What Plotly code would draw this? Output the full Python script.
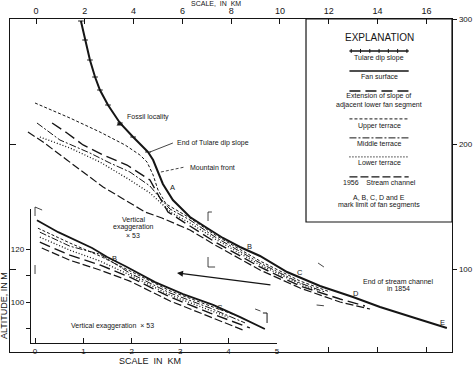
import plotly.graph_objects as go

# ---------------- data (main profile: km on top scale, altitude m on right scale)
tulare_km = [1.84, 2.01, 2.21, 2.42, 2.62, 2.95, 3.44, 3.98, 4.59]
tulare_m = [298.4, 283.2, 267.2, 253.6, 243.2, 231.2, 216.8, 205.6, 193.6]

fan_km = [4.59, 4.80, 5.00, 5.20, 5.61, 6.31, 7.01, 7.66, 8.36, 9.18, 10.29, 11.64, 12.99, 14.10, 15.53, 16.84]
fan_m = [193.6, 187.2, 177.6, 168.0, 155.2, 141.6, 132.8, 124.8, 117.6, 110.4, 97.6, 86.4, 77.6, 69.6, 60.8, 52.8]

upper_km = [-0.04, 1.39, 2.62, 3.65, 4.26, 4.55, 4.80, 5.00, 5.33, 6.31, 7.34, 9.18, 10.82, 12.05]
upper_m = [232.8, 220.8, 209.6, 199.2, 191.2, 185.6, 175.2, 163.2, 152.0, 140.8, 127.2, 106.4, 90.4, 81.6]

middle_km = [0.04, 0.98, 2.21, 3.03, 3.85, 4.67, 5.08, 5.49, 6.31, 7.34, 9.18, 10.82, 11.84]
middle_m = [216.8, 203.2, 192.8, 184.8, 177.6, 166.4, 156.8, 148.0, 139.2, 125.6, 104.8, 88.8, 81.6]

lower_km = [0.16, 1.39, 2.62, 3.85, 4.67, 5.57, 6.31, 7.34, 9.18, 10.82, 11.64]
lower_m = [205.6, 196.8, 185.6, 171.2, 160.8, 144.8, 136.8, 124.0, 103.2, 88.0, 82.4]

ext_km = [0.66, 1.27, 1.93, 2.75, 3.73, 4.67, 5.08, 5.41, 6.31, 7.34, 9.18, 10.82, 12.46, 13.48]
ext_m = [216.8, 208.8, 199.2, 191.2, 183.2, 171.2, 156.8, 145.6, 134.4, 121.6, 101.6, 86.4, 76.0, 70.4]

stream_km = [-0.33, 0.29, 1.27, 1.93, 2.75, 3.44, 4.47, 5.16, 6.31, 7.34, 9.18, 10.82, 12.46, 13.69]
stream_m = [209.6, 201.6, 187.2, 177.6, 165.6, 157.6, 145.6, 140.8, 131.2, 119.2, 99.2, 84.8, 73.6, 68.0]

fossil_km = [3.44]
fossil_m = [216.0]

# ---------------- inset data (km on inset scale, altitude m on inset scale)
ifan_km = [0.04, 0.48, 1.18, 1.49, 1.86, 2.48, 3.06, 3.68, 4.24, 4.75]
ifan_m = [130.9, 126.4, 120.4, 117.0, 113.6, 107.5, 103.0, 98.9, 94.3, 89.8]
iupper_km = [0.06, 0.72, 1.34, 1.96, 2.79, 3.62, 4.13]
iupper_m = [127.9, 122.3, 117.4, 111.7, 104.2, 98.5, 95.1]
imiddle_km = [0.10, 0.72, 1.34, 1.96, 2.79, 3.62, 4.34]
imiddle_m = [126.4, 121.1, 118.1, 110.9, 103.4, 97.7, 92.1]
ilower_km = [0.10, 0.72, 1.34, 1.96, 2.79, 3.62, 4.03]
ilower_m = [124.5, 119.6, 115.5, 110.2, 102.6, 97.0, 94.0]
iext_km = [0.10, 0.72, 1.34, 1.96, 2.79, 3.62, 4.44]
iext_m = [122.6, 117.7, 114.0, 109.4, 101.9, 95.8, 90.2]
istream_km = [0.14, 0.72, 1.34, 1.96, 2.79, 3.62, 4.34]
istream_m = [120.4, 115.8, 112.1, 107.9, 100.4, 94.3, 89.1]

top_ticks = [0, 2, 4, 6, 8, 10, 12, 14, 16]
right_ticks = [100, 200, 300]
inset_xticks = [0, 1, 2, 3, 4, 5]
inset_yticks = [90, 100, 110, 120]
inset_yticktext = ["", "100", "", "120"]

legend_items = ["Tulare dip slope", "Fan surface",
                "Extension of slope of<br>adjacent lower fan segment",
                "Upper terrace", "Middle terrace", "Lower terrace",
                "1956\u00a0\u00a0\u00a0\u00a0Stream channel"]

# ---------------- styles
LC = "#151515"
FONT = "Liberation Sans, Arial, sans-serif"
S_UPPER = dict(dash="3px,2px", width=1)
S_MIDDLE = dict(dash="7px,2px,2px,2px", width=1)
S_LOWER = dict(dash="1px,2px", width=1.3)
S_EXT = dict(dash="11px,5px", width=1.4)
S_STREAM = dict(dash="8px,3px", width=1.2)

fig = go.Figure()


def add(xs, ys, style, xa="x", ya="y", **kw):
    fig.add_trace(go.Scatter(x=xs, y=ys, mode=kw.pop("mode", "lines"),
                             line=dict(color=LC, **style), xaxis=xa, yaxis=ya,
                             hoverinfo="skip", showlegend=False, **kw))


# main profile
add(upper_km, upper_m, S_UPPER)
add(middle_km, middle_m, S_MIDDLE)
add(lower_km, lower_m, S_LOWER)
add(ext_km, ext_m, S_EXT)
add(stream_km, stream_m, S_STREAM)
add(fan_km, fan_m, dict(width=2))
add(tulare_km, tulare_m, dict(width=2), mode="lines+markers",
    marker=dict(symbol="line-ew", size=4, line=dict(color=LC, width=1)))
add(fossil_km, fossil_m, dict(width=1), mode="markers",
    marker=dict(symbol="triangle-up", size=6, color=LC))
# leaders
add([4.67, 5.61], [193.6, 200.8], dict(width=0.8))
add([5.12, 6.1], [177.6, 181.6], dict(width=0.8, dash="3px,2px"))
# bracket marks
add([7.05, 7.05, 7.34], [109.6, 101.6, 101.6], dict(width=0.8))
add([7.21, 7.05, 7.05], [145.6, 145.6, 138.4], dict(width=0.8))
add([9.3, 9.47, 9.47], [64.8, 64.8, 56.8], dict(width=1))
add([8.98, 9.2], [68.0, 66.4], dict(width=0.8))
add([11.56, 11.8], [104.8, 101.6], dict(width=0.8))
add([11.5, 11.8], [71.2, 70.6], dict(width=0.8))
add([0.25, -0.04, -0.04], [147.2, 149.6, 142.4], dict(width=0.8))
add([-0.04, -0.04], [103.2, 96.0], dict(width=0.8))

# inset
add(iupper_km, iupper_m, S_UPPER, "x2", "y2")
add(imiddle_km, imiddle_m, S_MIDDLE, "x2", "y2")
add(ilower_km, ilower_m, S_LOWER, "x2", "y2")
add(iext_km, iext_m, S_EXT, "x2", "y2")
add(istream_km, istream_m, S_STREAM, "x2", "y2")
add(ifan_km, ifan_m, dict(width=1.8), "x2", "y2")

# dummy for overlay tick axes
fig.add_trace(go.Scatter(x=[0], y=[100], mode="markers", marker=dict(opacity=0),
                         xaxis="x3", yaxis="y3", hoverinfo="skip", showlegend=False))

XR = [-1.066, 17.05]
YR = [33.6, 300]

ann = []


def txt(x, y, t, size=7, xref="x", yref="y", xanchor="center", **kw):
    ann.append(dict(x=x, y=y, xref=xref, yref=yref, text=t, showarrow=False,
                    xanchor=xanchor, yanchor="middle",
                    font=dict(family=FONT, size=size, color=LC), **kw))


txt(3.65, 221.6, "Fossil locality", xanchor="left")
txt(5.7, 200.8, "End of Tulare dip slope", xanchor="left")
txt(6.23, 181.6, "Mountain front", xanchor="left")
txt(5.61, 165.6, "A", size=7.5)
txt(8.77, 118.0, "B", size=7.5)
txt(10.82, 97.6, "C", size=7.5)
txt(13.11, 80.8, "D", size=7.5)
txt(16.68, 57.6, "E", size=7.5)
txt(14.84, 90.4, "End of stream channel")
txt(14.84, 84.6, "in 1854")
txt(3.98, 140.0, "Vertical")
txt(3.98, 133.6, "exaggeration")
txt(3.98, 127.2, "\u00d7 53")
txt(1.65, 116.6, "B", size=7.5, xref="x2", yref="y2")
txt(3.82, 98.1, "C", size=7.5, xref="x2", yref="y2")
txt(1.61, 90.9, "Vertical exaggeration  \u00d7 53", xref="x2", yref="y2")

ann.append(dict(x=5.78, y=96.8, ax=9.67, ay=87.2, xref="x", yref="y", axref="x", ayref="y",
                showarrow=True, arrowhead=2, arrowsize=1, arrowwidth=1.2, arrowcolor=LC, text=""))

# paper-space texts
txt(0.466, 1.046, "SCALE,  IN  KM", size=7, xref="paper", yref="paper")
txt(0.317, -0.026, "SCALE  IN  KM", size=9, xref="paper", yref="paper")
txt(-0.0136, 0.141, "ALTITUDE, IN M", size=9, xref="paper", yref="paper", textangle=-90)

# legend box content
LX = 0.835
txt(LX, 0.943, "EXPLANATION", size=10, xref="paper", yref="paper")
label_y = [0.883, 0.826, 0.754, 0.679, 0.625, 0.568, 0.508]
for t, yy in zip(legend_items, label_y):
    txt(LX, yy, t, size=7, xref="paper", yref="paper")
txt(LX, 0.465, "A, B, C, D and E", size=7, xref="paper", yref="paper")
txt(LX, 0.441, "mark limit of fan segments", size=7, xref="paper", yref="paper")

shapes = [dict(type="rect", xref="paper", yref="paper", x0=0.6697, x1=1.0, y0=0.3904, y1=1.0,
               line=dict(color=LC, width=1.2))]
sample_y = [0.904, 0.844, 0.784, 0.700, 0.643, 0.586, 0.526]
sample_style = [dict(width=1.6), dict(width=1.4), S_EXT, S_UPPER, S_MIDDLE, S_LOWER, S_STREAM]
for yy, st in zip(sample_y, sample_style):
    shapes.append(dict(type="line", xref="paper", yref="paper", x0=0.768, x1=0.902, y0=yy, y1=yy,
                       line=dict(color=LC, **st)))
for i in range(7):
    xx = 0.772 + i * 0.021
    shapes.append(dict(type="line", xref="paper", yref="paper", x0=xx, x1=xx,
                       y0=0.904 - 0.006, y1=0.904 + 0.006, line=dict(color=LC, width=1)))

tickfont = dict(family=FONT, size=9, color=LC)
fig.update_layout(
    template="none",
    width=474, height=375,
    margin=dict(l=10, r=22, t=19, b=23, pad=0),
    paper_bgcolor="white", plot_bgcolor="rgba(0,0,0,0)",
    showlegend=False,
    annotations=ann, shapes=shapes,
    xaxis=dict(range=XR, side="top", tickvals=top_ticks, ticks="inside", ticklen=5,
               tickcolor=LC, showline=True, mirror=True, linecolor=LC, linewidth=1.3,
               showgrid=False, zeroline=False, tickfont=tickfont, automargin=False,
               fixedrange=True),
    yaxis=dict(range=YR, side="right", tickvals=right_ticks, ticks="outside", ticklen=4,
               tickcolor=LC, showline=True, mirror=True, linecolor=LC, linewidth=1.3,
               showgrid=False, zeroline=False, tickfont=dict(family=FONT, size=8, color=LC),
               automargin=False, fixedrange=True),
    xaxis3=dict(range=XR, overlaying="x", side="bottom", anchor="y", tickvals=[12, 14, 16],
                ticks="inside", ticklen=5, tickcolor=LC, showticklabels=False, showline=False,
                showgrid=False, zeroline=False, automargin=False),
    yaxis3=dict(range=YR, overlaying="y", side="left", anchor="x", tickvals=[100, 200],
                ticks="inside", ticklen=6, tickcolor=LC, showticklabels=False, showline=False,
                showgrid=False, zeroline=False, automargin=False),
    xaxis2=dict(domain=[0.0475, 0.604], anchor="y2", range=[-0.083, 5.0], tickvals=inset_xticks,
                ticks="inside", ticklen=5, tickcolor=LC, showline=True, linecolor=LC, linewidth=1.3,
                showgrid=False, zeroline=False, tickfont=dict(family=FONT, size=8, color=LC),
                automargin=False),
    yaxis2=dict(domain=[0.027, 0.429], anchor="x2", range=[84.5, 135.1], tickvals=inset_yticks,
                ticktext=inset_yticktext, ticks="outside", ticklen=4, tickcolor=LC,
                showline=True, linecolor=LC, linewidth=1.3, showgrid=False, zeroline=False,
                tickfont=dict(family=FONT, size=8, color=LC), automargin=False),
)

fig.write_html("out.html", config={"displayModeBar": False, "staticPlot": True},
               post_script="document.body.style.margin='0px';document.body.style.padding='0px';")
